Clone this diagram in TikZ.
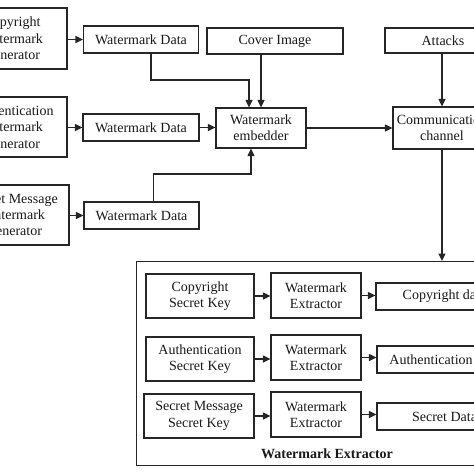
\documentclass[tikz,border=0pt]{standalone}
\usepackage{fontspec}
\setmainfont{Liberation Serif}
\usetikzlibrary{arrows.meta,positioning}
\begin{document}
\begin{tikzpicture}[x=1pt,y=-1pt,
  every node/.style={font=\fontsize{14}{16.4}\selectfont, text=black!90},
  box/.style={draw=black!85, line width=1.2pt, rectangle, inner sep=0pt, align=center},
  arr/.style={draw=black!85, line width=1.2pt, -{Triangle[length=7.5pt,width=7pt]}},
  ln/.style={draw=black!85, line width=1.2pt}]
\useasboundingbox (0,0) rectangle (474,474);
\clip (0,0) rectangle (474,474);
\fill[white] (0,0) rectangle (474,474);
% generators
\node[box, minimum width=110, minimum height=61] (gen1) at (12,38.5) {Copyright\\Watermark\\Generator};
\node[box, minimum width=110, minimum height=60] (gen2) at (12,127) {Authentication\\Watermark\\Generator};
\node[box, minimum width=110, minimum height=60] (gen3) at (14,215) {Secret Message\\Watermark\\Generator};
% watermark data
\node[box, minimum width=115, minimum height=27] (wd1) at (141,39.5) {Watermark Data};
\node[box, minimum width=116, minimum height=27] (wd2) at (141,127.5) {Watermark Data};
\node[box, minimum width=115, minimum height=27] (wd3) at (141.5,215.5) {Watermark Data};
% cover, embedder
\node[box, minimum width=136, minimum height=26] (cover) at (275,41) {Cover Image};
\node[box, minimum width=90, minimum height=40] (emb) at (261,128) {Watermark\\embedder};
\node[box, minimum width=116, minimum height=25] (att) at (443,40.5) {Attacks};
\node[box, minimum width=98, minimum height=42] (comm) at (442,128) {Communication\\channel};
% extractor frame
\node[box, minimum width=390, minimum height=204, anchor=north west] (frame) at (136,261) {};
\node[font=\fontsize{14}{16.4}\selectfont\bfseries] (cap) at (327,454) {Watermark Extractor};
% rows
\node[box, minimum width=108, minimum height=44] (k1) at (200,296) {Copyright\\Secret Key};
\node[box, minimum width=90, minimum height=45] (x1) at (316,295.5) {Watermark\\Extractor};
\node[box, minimum width=137, minimum height=27] (o1) at (444.5,296.5) {Copyright data};
\node[box, minimum width=108, minimum height=44] (k2) at (200,359) {Authentication\\Secret Key};
\node[box, minimum width=90, minimum height=45] (x2) at (316,357.5) {Watermark\\Extractor};
\node[box, minimum width=135, minimum height=27] (o2) at (444.5,359.5) {Authentication data};
\node[box, minimum width=110, minimum height=44] (k3) at (199,416) {Secret Message\\Secret Key};
\node[box, minimum width=90, minimum height=45] (x3) at (316,414.5) {Watermark\\Extractor};
\node[box, minimum width=135, minimum height=27] (o3) at (444.5,416.5) {Secret Data};
% connectors
\draw[arr] (wd1.west -| gen1.east) -- (wd1.west);
\draw[arr] (wd2.west -| gen2.east) -- (wd2.west);
\draw[arr] (wd3.west -| gen3.east) -- (wd3.west);
\coordinate (j1) at (249,80);
\coordinate (j3) at (251,174);
\draw[arr] ([xshift=10]wd1.south) |- (j1) -- (j1 |- emb.north);
\draw[arr] (emb.north |- cover.south) -- (emb.north);
\draw[arr] (wd2.east) -- (wd2.east -| emb.west);
\draw[arr] ([xshift=12]wd3.north) |- (j3) -- (j3 |- emb.south);
\draw[arr] (emb.east) -- (emb.east -| comm.west);
\draw[arr] (comm.north |- att.south) -- (comm.north);
\draw[arr] (comm.south) -- (comm.south |- frame.north);
\draw[arr] (k1.east) -- (k1.east -| x1.west);
\draw[arr] (x1.east) -- (x1.east -| o1.west);
\draw[arr] (k2.east) -- (k2.east -| x2.west);
\draw[arr] (x2.east) -- (x2.east -| o2.west);
\draw[arr] (k3.east) -- (k3.east -| x3.west);
\draw[arr] (x3.east) -- (x3.east -| o3.west);
\end{tikzpicture}
\end{document}
